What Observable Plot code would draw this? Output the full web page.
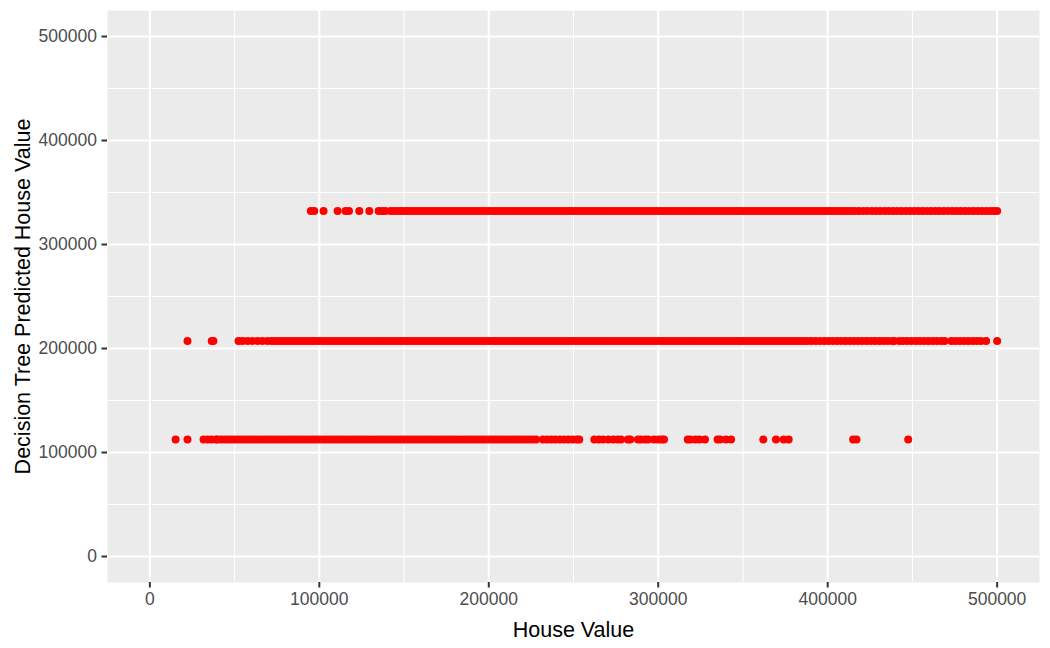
<!DOCTYPE html>
<html>
<head>
<meta charset="utf-8">
<script src="https://cdn.jsdelivr.net/npm/d3@7"></script>
<script src="https://cdn.jsdelivr.net/npm/@observablehq/plot@0.6"></script>
<style>
  html, body { margin: 0; padding: 0; background: #ffffff; }
  #chart svg { display: block; }
</style>
</head>
<body>
<div id="chart"></div>
<script>
// Predicted values (the three leaves of the decision tree)
const predictedLevels = [332300, 207300, 112400];

const topRowX = [95,97,102.5,110.8,115.5,117.5,123.6,129.5,135,137,139,142,144,146,148,
150,152,154,156,158,160,162,164,166,168,170,172,174,176,178,180,182,184,186,188,190,192,194,196,198,
200,202,204,206,208,210,212,214,216,218,220,222,224,226,228,230,232,234,236,238,240,242,244,246,248,
250,252,254,256,258,260,262,264,266,268,270,272,274,276,278,280,282,284,286,288,290,292,294,296,298,
300,302,304,306,308,310,312,314,316,318,320,322,324,326,328,330,332,334,336,338,340,342,344,346,348,
350,352,354,356,358,360,362,364,366,368,370,372,374,376,378,380,382,384,386,388,390,392,394,396,398,
400,402,404,406,408,410,412,414,416,
418.5,421,423.5,426,428.5,431,433.5,436,438.5,441,443.5,446,448.5,451,453.5,456,458.5,461,463.5,466,
468.5,471,473.5,476,478.5,481,483.5,486,488.5,491,493.5,496,498,500];

const midRowX = [22.2,36.5,37.5,52.3,54.7,57.7,60.6,63.6,66.5,69.5,
72,74,76,78,80,82,84,86,88,90,92,94,96,98,
100,102,104,106,108,110,112,114,116,118,120,122,124,126,128,130,132,134,136,138,140,142,144,146,148,
150,152,154,156,158,160,162,164,166,168,170,172,174,176,178,180,182,184,186,188,190,192,194,196,198,
200,202,204,206,208,210,212,214,216,218,220,222,224,226,228,230,232,234,236,238,240,242,244,246,248,
250,252,254,256,258,260,262,264,266,268,270,272,274,276,278,280,282,284,286,288,290,292,294,296,298,
300,302,304,306,308,310,312,314,316,318,320,322,324,326,328,330,332,334,336,338,340,342,344,346,348,
350,352,354,356,358,360,362,364,366,368,370,372,374,376,378,380,382,384,386,388,
390.5,393,395.5,398,400.5,403,405.5,408,410.5,413,415.5,418,420.5,423,425.5,428,430.5,433,435.5,438,439.4,
442.4,444.5,447,449.5,452,454.5,457,459.5,462,464.5,467,469,
473,475.5,478,480.5,483,485.5,488,490.5,493.5,
500];

const lowRowX = [15.2,22.2,31.7,34,36.4,39,
40,42,44,46,48,50,52,54,56,58,60,62,64,66,68,70,72,74,76,78,80,82,84,86,88,90,92,94,96,98,
100,102,104,106,108,110,112,114,116,118,120,122,124,126,128,130,132,134,136,138,140,142,144,146,148,
150,152,154,156,158,160,162,164,166,168,170,172,174,176,178,180,182,184,186,188,190,192,194,196,198,
200,202,204,206,208,210,212,214,216,218,220,222,224,226,228,
232,234.5,237,239.5,242,244.5,247,249.5,252,253.4,
262.3,265,267.5,270.5,273.5,276,278,
282,283.5,288,289.8,
292.2,294,297.5,300,302,303.4,
317.4,319,322,324.3,
327.6,
335,336.5,340,343,
362,369.5,374,377,
415,417,
447.5];

// Axis ticks
const majorTicks = [0, 100000, 200000, 300000, 400000, 500000];
const minorTicks = [50000, 150000, 250000, 350000, 450000];
const xTitle = "House Value";
const yTitle = "Decision Tree Predicted House Value";

// Build the table
const rows = [topRowX, midRowX, lowRowX];
const points = [];
rows.forEach((xs, i) => xs.forEach(v => points.push({x: v * 1000, y: predictedLevels[i]})));

const font = "'Liberation Sans', Arial, Helvetica, sans-serif";

const chart = Plot.plot({
  width: 1050,
  height: 648,
  marginLeft: 107,
  marginRight: 11,
  marginTop: 10,
  marginBottom: 66,
  style: {fontFamily: font, fontSize: "17.5px", background: "#ffffff", overflow: "visible"},
  x: {domain: [-25000, 525000], label: null},
  y: {domain: [-25000, 525000], label: null},
  marks: [
    Plot.frame({fill: "#EBEBEB", stroke: null}),
    Plot.ruleX(minorTicks, {stroke: "#ffffff", strokeWidth: 1.05}),
    Plot.ruleY(minorTicks, {stroke: "#ffffff", strokeWidth: 1.05}),
    Plot.ruleX(majorTicks, {stroke: "#ffffff", strokeWidth: 2.1}),
    Plot.ruleY(majorTicks, {stroke: "#ffffff", strokeWidth: 2.1}),
    Plot.dot(points, {x: "x", y: "y", r: 4, fill: "#FF0000", stroke: null}),
    Plot.axisX({ticks: majorTicks, tickFormat: d => String(d), tickSize: 5.5, tickPadding: 5,
      stroke: "#333333", strokeWidth: 2, fill: "#4D4D4D", label: null, fontSize: 17.5}),
    Plot.axisY({ticks: majorTicks, tickFormat: d => String(d), tickSize: 5.5, tickPadding: 5,
      stroke: "#333333", strokeWidth: 2, fill: "#4D4D4D", label: null, fontSize: 17.5}),
    Plot.text([xTitle], {frameAnchor: "bottom", textAnchor: "middle", lineAnchor: "bottom", dy: 54, fontSize: 21.5, fill: "#000000"}),
    Plot.text([yTitle], {frameAnchor: "left", textAnchor: "middle", lineAnchor: "bottom", rotate: -90, dx: -78, fontSize: 21.5, fill: "#000000"})
  ]
});

document.getElementById("chart").appendChild(chart);
</script>
</body>
</html>
